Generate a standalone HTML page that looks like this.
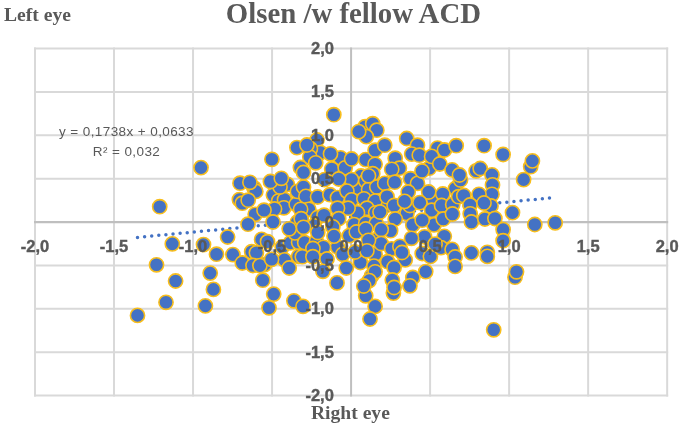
<!DOCTYPE html>
<html><head><meta charset="utf-8"><style>
html,body{margin:0;padding:0;background:#fff;}
body{width:685px;height:426px;overflow:hidden;}
svg{display:block;filter:blur(0.35px);}
.ax{font-family:"Liberation Sans",sans-serif;font-weight:bold;stroke:#595959;stroke-width:0.4px;font-size:16.5px;fill:#595959;}
.eq{font-family:"Liberation Sans",sans-serif;font-size:13.5px;letter-spacing:0.4px;fill:#595959;}
.ti{font-family:"Liberation Serif",serif;font-weight:bold;font-size:28.8px;fill:#595959;}
.lb{font-family:"Liberation Serif",serif;font-weight:bold;font-size:19.6px;fill:#595959;}
circle{fill:#4472C4;stroke:#F8BE1C;stroke-width:1.6;}
</style></head><body>
<svg width="685" height="426" viewBox="0 0 685 426">
<line x1="35.00" y1="47.60" x2="35.00" y2="396.60" stroke="#d9d9d9" stroke-width="2"/>
<line x1="114.02" y1="47.60" x2="114.02" y2="396.60" stroke="#d9d9d9" stroke-width="2"/>
<line x1="193.04" y1="47.60" x2="193.04" y2="396.60" stroke="#d9d9d9" stroke-width="2"/>
<line x1="272.06" y1="47.60" x2="272.06" y2="396.60" stroke="#d9d9d9" stroke-width="2"/>
<line x1="430.10" y1="47.60" x2="430.10" y2="396.60" stroke="#d9d9d9" stroke-width="2"/>
<line x1="509.12" y1="47.60" x2="509.12" y2="396.60" stroke="#d9d9d9" stroke-width="2"/>
<line x1="588.14" y1="47.60" x2="588.14" y2="396.60" stroke="#d9d9d9" stroke-width="2"/>
<line x1="667.16" y1="47.60" x2="667.16" y2="396.60" stroke="#d9d9d9" stroke-width="2"/>
<line x1="34.00" y1="48.60" x2="668.16" y2="48.60" stroke="#d9d9d9" stroke-width="2"/>
<line x1="34.00" y1="91.97" x2="668.16" y2="91.97" stroke="#d9d9d9" stroke-width="2"/>
<line x1="34.00" y1="135.35" x2="668.16" y2="135.35" stroke="#d9d9d9" stroke-width="2"/>
<line x1="34.00" y1="178.72" x2="668.16" y2="178.72" stroke="#d9d9d9" stroke-width="2"/>
<line x1="34.00" y1="265.48" x2="668.16" y2="265.48" stroke="#d9d9d9" stroke-width="2"/>
<line x1="34.00" y1="308.85" x2="668.16" y2="308.85" stroke="#d9d9d9" stroke-width="2"/>
<line x1="34.00" y1="352.23" x2="668.16" y2="352.23" stroke="#d9d9d9" stroke-width="2"/>
<line x1="34.00" y1="395.60" x2="668.16" y2="395.60" stroke="#d9d9d9" stroke-width="2"/>
<line x1="351.08" y1="47.60" x2="351.08" y2="396.60" stroke="#bfbfbf" stroke-width="2"/>
<line x1="34.00" y1="222.10" x2="668.16" y2="222.10" stroke="#bfbfbf" stroke-width="2.1"/>
<line x1="137.5" y1="237.38" x2="555.2" y2="197.53" stroke="#4472C4" stroke-width="3.5" stroke-linecap="round" stroke-dasharray="0 7.135"/>
<circle cx="317.0" cy="140.0" r="7.1"/>
<circle cx="320.5" cy="152.6" r="7.1"/>
<circle cx="407.0" cy="213.5" r="7.1"/>
<circle cx="433.0" cy="199.0" r="7.1"/>
<circle cx="385.5" cy="206.0" r="7.1"/>
<circle cx="357.0" cy="187.5" r="7.1"/>
<circle cx="337.5" cy="247.0" r="7.1"/>
<circle cx="201.0" cy="167.6" r="7.1"/>
<circle cx="159.7" cy="206.7" r="7.1"/>
<circle cx="172.3" cy="243.9" r="7.1"/>
<circle cx="156.5" cy="264.8" r="7.1"/>
<circle cx="175.6" cy="281.0" r="7.1"/>
<circle cx="203.5" cy="244.6" r="7.1"/>
<circle cx="216.5" cy="254.2" r="7.1"/>
<circle cx="210.2" cy="273.1" r="7.1"/>
<circle cx="166.0" cy="302.3" r="7.1"/>
<circle cx="137.5" cy="315.4" r="7.1"/>
<circle cx="213.4" cy="289.4" r="7.1"/>
<circle cx="205.4" cy="305.9" r="7.1"/>
<circle cx="271.9" cy="159.3" r="7.1"/>
<circle cx="296.9" cy="147.6" r="7.1"/>
<circle cx="310.4" cy="148.8" r="7.1"/>
<circle cx="309.8" cy="157.0" r="7.1"/>
<circle cx="315.7" cy="162.8" r="7.1"/>
<circle cx="300.4" cy="167.5" r="7.1"/>
<circle cx="240.0" cy="183.2" r="7.1"/>
<circle cx="254.0" cy="187.9" r="7.1"/>
<circle cx="255.8" cy="191.4" r="7.1"/>
<circle cx="239.4" cy="199.6" r="7.1"/>
<circle cx="242.3" cy="203.2" r="7.1"/>
<circle cx="248.2" cy="200.2" r="7.1"/>
<circle cx="287.4" cy="184.4" r="7.1"/>
<circle cx="273.4" cy="195.0" r="7.1"/>
<circle cx="278.7" cy="200.8" r="7.1"/>
<circle cx="284.5" cy="199.6" r="7.1"/>
<circle cx="283.9" cy="207.8" r="7.1"/>
<circle cx="274.5" cy="209.0" r="7.1"/>
<circle cx="255.2" cy="214.3" r="7.1"/>
<circle cx="248.0" cy="224.2" r="7.1"/>
<circle cx="273.0" cy="222.0" r="7.1"/>
<circle cx="296.2" cy="204.3" r="7.1"/>
<circle cx="297.4" cy="191.4" r="7.1"/>
<circle cx="297.4" cy="222.0" r="7.1"/>
<circle cx="227.6" cy="237.0" r="7.1"/>
<circle cx="261.6" cy="239.4" r="7.1"/>
<circle cx="267.5" cy="241.7" r="7.1"/>
<circle cx="232.9" cy="254.6" r="7.1"/>
<circle cx="242.3" cy="263.0" r="7.1"/>
<circle cx="251.7" cy="251.7" r="7.1"/>
<circle cx="256.4" cy="252.8" r="7.1"/>
<circle cx="253.0" cy="265.5" r="7.1"/>
<circle cx="282.2" cy="247.0" r="7.1"/>
<circle cx="284.5" cy="259.9" r="7.1"/>
<circle cx="289.2" cy="268.0" r="7.1"/>
<circle cx="290.4" cy="242.9" r="7.1"/>
<circle cx="298.6" cy="242.3" r="7.1"/>
<circle cx="298.6" cy="256.4" r="7.1"/>
<circle cx="295.0" cy="232.9" r="7.1"/>
<circle cx="264.6" cy="264.6" r="7.1"/>
<circle cx="262.8" cy="280.2" r="7.1"/>
<circle cx="273.7" cy="294.1" r="7.1"/>
<circle cx="269.0" cy="307.8" r="7.1"/>
<circle cx="293.9" cy="300.8" r="7.1"/>
<circle cx="303.0" cy="306.3" r="7.1"/>
<circle cx="259.9" cy="265.6" r="7.1"/>
<circle cx="333.8" cy="114.7" r="7.1"/>
<circle cx="365.1" cy="126.7" r="7.1"/>
<circle cx="372.7" cy="123.7" r="7.1"/>
<circle cx="376.8" cy="130.2" r="7.1"/>
<circle cx="366.3" cy="136.6" r="7.1"/>
<circle cx="340.5" cy="157.9" r="7.1"/>
<circle cx="331.7" cy="169.0" r="7.1"/>
<circle cx="345.2" cy="167.8" r="7.1"/>
<circle cx="351.6" cy="159.0" r="7.1"/>
<circle cx="365.7" cy="159.6" r="7.1"/>
<circle cx="375.1" cy="150.2" r="7.1"/>
<circle cx="375.1" cy="164.3" r="7.1"/>
<circle cx="361.0" cy="176.0" r="7.1"/>
<circle cx="372.7" cy="173.7" r="7.1"/>
<circle cx="351.6" cy="179.6" r="7.1"/>
<circle cx="338.7" cy="179.0" r="7.1"/>
<circle cx="324.6" cy="179.6" r="7.1"/>
<circle cx="365.7" cy="181.0" r="7.1"/>
<circle cx="303.5" cy="187.0" r="7.1"/>
<circle cx="305.9" cy="196.4" r="7.1"/>
<circle cx="317.6" cy="197.0" r="7.1"/>
<circle cx="329.9" cy="194.7" r="7.1"/>
<circle cx="337.5" cy="197.6" r="7.1"/>
<circle cx="346.9" cy="191.1" r="7.1"/>
<circle cx="351.6" cy="199.9" r="7.1"/>
<circle cx="368.6" cy="189.4" r="7.1"/>
<circle cx="376.8" cy="187.0" r="7.1"/>
<circle cx="363.9" cy="198.8" r="7.1"/>
<circle cx="375.1" cy="201.1" r="7.1"/>
<circle cx="366.9" cy="208.2" r="7.1"/>
<circle cx="375.7" cy="212.8" r="7.1"/>
<circle cx="357.5" cy="212.8" r="7.1"/>
<circle cx="348.1" cy="208.2" r="7.1"/>
<circle cx="337.5" cy="208.2" r="7.1"/>
<circle cx="338.7" cy="218.7" r="7.1"/>
<circle cx="308.8" cy="209.3" r="7.1"/>
<circle cx="300.6" cy="209.3" r="7.1"/>
<circle cx="301.2" cy="218.7" r="7.1"/>
<circle cx="317.6" cy="217.5" r="7.1"/>
<circle cx="324.0" cy="215.2" r="7.1"/>
<circle cx="354.0" cy="224.6" r="7.1"/>
<circle cx="365.7" cy="223.4" r="7.1"/>
<circle cx="376.2" cy="223.4" r="7.1"/>
<circle cx="332.8" cy="226.9" r="7.1"/>
<circle cx="314.1" cy="225.7" r="7.1"/>
<circle cx="303.5" cy="227.3" r="7.1"/>
<circle cx="334.0" cy="236.1" r="7.1"/>
<circle cx="304.7" cy="242.6" r="7.1"/>
<circle cx="316.4" cy="241.4" r="7.1"/>
<circle cx="323.5" cy="247.3" r="7.1"/>
<circle cx="312.9" cy="248.5" r="7.1"/>
<circle cx="302.3" cy="256.7" r="7.1"/>
<circle cx="312.9" cy="256.7" r="7.1"/>
<circle cx="327.0" cy="259.0" r="7.1"/>
<circle cx="342.8" cy="254.3" r="7.1"/>
<circle cx="349.3" cy="235.6" r="7.1"/>
<circle cx="356.3" cy="232.0" r="7.1"/>
<circle cx="365.7" cy="229.0" r="7.1"/>
<circle cx="377.4" cy="239.1" r="7.1"/>
<circle cx="375.1" cy="254.3" r="7.1"/>
<circle cx="360.4" cy="262.5" r="7.1"/>
<circle cx="346.3" cy="268.0" r="7.1"/>
<circle cx="373.9" cy="266.1" r="7.1"/>
<circle cx="355.1" cy="252.0" r="7.1"/>
<circle cx="322.9" cy="271.3" r="7.1"/>
<circle cx="337.0" cy="282.9" r="7.1"/>
<circle cx="365.7" cy="295.8" r="7.1"/>
<circle cx="371.6" cy="275.9" r="7.1"/>
<circle cx="375.1" cy="271.8" r="7.1"/>
<circle cx="369.2" cy="280.6" r="7.1"/>
<circle cx="375.1" cy="306.4" r="7.1"/>
<circle cx="370.0" cy="319.0" r="7.1"/>
<circle cx="393.4" cy="293.1" r="7.1"/>
<circle cx="384.7" cy="145.2" r="7.1"/>
<circle cx="406.7" cy="138.5" r="7.1"/>
<circle cx="417.5" cy="145.2" r="7.1"/>
<circle cx="437.5" cy="148.1" r="7.1"/>
<circle cx="444.5" cy="150.0" r="7.1"/>
<circle cx="456.2" cy="145.7" r="7.1"/>
<circle cx="411.7" cy="154.1" r="7.1"/>
<circle cx="419.3" cy="155.2" r="7.1"/>
<circle cx="395.2" cy="158.2" r="7.1"/>
<circle cx="399.4" cy="168.2" r="7.1"/>
<circle cx="391.7" cy="169.3" r="7.1"/>
<circle cx="429.3" cy="168.2" r="7.1"/>
<circle cx="431.6" cy="156.4" r="7.1"/>
<circle cx="439.8" cy="164.0" r="7.1"/>
<circle cx="452.1" cy="169.9" r="7.1"/>
<circle cx="384.7" cy="183.4" r="7.1"/>
<circle cx="394.7" cy="182.2" r="7.1"/>
<circle cx="410.5" cy="178.7" r="7.1"/>
<circle cx="417.5" cy="183.4" r="7.1"/>
<circle cx="428.7" cy="192.0" r="7.1"/>
<circle cx="455.5" cy="188.5" r="7.1"/>
<circle cx="442.8" cy="194.0" r="7.1"/>
<circle cx="408.2" cy="192.0" r="7.1"/>
<circle cx="387.0" cy="196.7" r="7.1"/>
<circle cx="394.1" cy="205.5" r="7.1"/>
<circle cx="409.9" cy="205.5" r="7.1"/>
<circle cx="404.6" cy="201.4" r="7.1"/>
<circle cx="419.9" cy="202.6" r="7.1"/>
<circle cx="431.6" cy="210.2" r="7.1"/>
<circle cx="441.6" cy="205.5" r="7.1"/>
<circle cx="452.7" cy="204.4" r="7.1"/>
<circle cx="458.6" cy="196.7" r="7.1"/>
<circle cx="380.0" cy="212.0" r="7.1"/>
<circle cx="395.2" cy="219.0" r="7.1"/>
<circle cx="412.8" cy="224.9" r="7.1"/>
<circle cx="434.0" cy="224.9" r="7.1"/>
<circle cx="443.3" cy="219.0" r="7.1"/>
<circle cx="390.6" cy="230.7" r="7.1"/>
<circle cx="424.6" cy="236.8" r="7.1"/>
<circle cx="444.3" cy="236.3" r="7.1"/>
<circle cx="381.2" cy="229.6" r="7.1"/>
<circle cx="422.2" cy="220.2" r="7.1"/>
<circle cx="411.5" cy="238.3" r="7.1"/>
<circle cx="381.2" cy="243.5" r="7.1"/>
<circle cx="391.7" cy="248.8" r="7.1"/>
<circle cx="399.9" cy="246.4" r="7.1"/>
<circle cx="405.2" cy="259.9" r="7.1"/>
<circle cx="387.6" cy="261.7" r="7.1"/>
<circle cx="394.1" cy="267.5" r="7.1"/>
<circle cx="422.2" cy="253.5" r="7.1"/>
<circle cx="430.4" cy="256.4" r="7.1"/>
<circle cx="441.0" cy="247.6" r="7.1"/>
<circle cx="452.1" cy="249.4" r="7.1"/>
<circle cx="455.1" cy="257.0" r="7.1"/>
<circle cx="455.1" cy="266.4" r="7.1"/>
<circle cx="425.7" cy="271.6" r="7.1"/>
<circle cx="412.8" cy="277.5" r="7.1"/>
<circle cx="392.3" cy="280.0" r="7.1"/>
<circle cx="435.1" cy="244.1" r="7.1"/>
<circle cx="394.1" cy="287.5" r="7.1"/>
<circle cx="409.9" cy="285.8" r="7.1"/>
<circle cx="484.1" cy="145.7" r="7.1"/>
<circle cx="503.1" cy="154.5" r="7.1"/>
<circle cx="476.1" cy="170.8" r="7.1"/>
<circle cx="480.2" cy="168.5" r="7.1"/>
<circle cx="492.0" cy="174.9" r="7.1"/>
<circle cx="460.5" cy="180.0" r="7.1"/>
<circle cx="492.5" cy="184.9" r="7.1"/>
<circle cx="492.0" cy="194.3" r="7.1"/>
<circle cx="479.0" cy="194.3" r="7.1"/>
<circle cx="463.8" cy="195.5" r="7.1"/>
<circle cx="523.6" cy="179.6" r="7.1"/>
<circle cx="530.7" cy="166.7" r="7.1"/>
<circle cx="532.4" cy="160.9" r="7.1"/>
<circle cx="470.0" cy="205.0" r="7.1"/>
<circle cx="491.0" cy="206.0" r="7.1"/>
<circle cx="470.2" cy="213.8" r="7.1"/>
<circle cx="471.4" cy="222.0" r="7.1"/>
<circle cx="484.9" cy="219.0" r="7.1"/>
<circle cx="494.9" cy="218.5" r="7.1"/>
<circle cx="503.1" cy="229.6" r="7.1"/>
<circle cx="503.1" cy="240.7" r="7.1"/>
<circle cx="512.5" cy="212.6" r="7.1"/>
<circle cx="534.8" cy="224.5" r="7.1"/>
<circle cx="484.0" cy="203.0" r="7.1"/>
<circle cx="471.4" cy="252.9" r="7.1"/>
<circle cx="487.3" cy="252.3" r="7.1"/>
<circle cx="487.3" cy="256.4" r="7.1"/>
<circle cx="515.0" cy="277.2" r="7.1"/>
<circle cx="555.2" cy="222.8" r="7.1"/>
<circle cx="493.7" cy="329.8" r="7.1"/>
<circle cx="280.0" cy="187.0" r="7.1"/>
<circle cx="306.9" cy="145.0" r="7.1"/>
<circle cx="303.5" cy="172.5" r="7.1"/>
<circle cx="249.9" cy="182.3" r="7.1"/>
<circle cx="270.4" cy="181.5" r="7.1"/>
<circle cx="281.3" cy="178.3" r="7.1"/>
<circle cx="264.0" cy="210.2" r="7.1"/>
<circle cx="289.2" cy="228.8" r="7.1"/>
<circle cx="271.6" cy="259.3" r="7.1"/>
<circle cx="358.7" cy="131.6" r="7.1"/>
<circle cx="330.5" cy="153.8" r="7.1"/>
<circle cx="368.5" cy="175.8" r="7.1"/>
<circle cx="317.8" cy="232.5" r="7.1"/>
<circle cx="368.5" cy="240.3" r="7.1"/>
<circle cx="366.9" cy="250.8" r="7.1"/>
<circle cx="363.8" cy="286.0" r="7.1"/>
<circle cx="422.0" cy="171.0" r="7.1"/>
<circle cx="459.5" cy="175.0" r="7.1"/>
<circle cx="452.5" cy="214.0" r="7.1"/>
<circle cx="402.0" cy="252.5" r="7.1"/>
<circle cx="516.5" cy="271.8" r="7.1"/>
<text class="ax" x="35.00" y="251.9" text-anchor="middle">-2,0</text>
<text class="ax" x="114.02" y="251.9" text-anchor="middle">-1,5</text>
<text class="ax" x="193.04" y="251.9" text-anchor="middle">-1,0</text>
<text class="ax" x="272.06" y="251.9" text-anchor="middle">-0,5</text>
<text class="ax" x="351.08" y="251.9" text-anchor="middle">0,0</text>
<text class="ax" x="430.10" y="251.9" text-anchor="middle">0,5</text>
<text class="ax" x="509.12" y="251.9" text-anchor="middle">1,0</text>
<text class="ax" x="588.14" y="251.9" text-anchor="middle">1,5</text>
<text class="ax" x="667.16" y="251.9" text-anchor="middle">2,0</text>
<text class="ax" x="333.9" y="54.00" text-anchor="end">2,0</text>
<text class="ax" x="333.9" y="97.38" text-anchor="end">1,5</text>
<text class="ax" x="333.9" y="140.75" text-anchor="end">1,0</text>
<text class="ax" x="333.9" y="184.12" text-anchor="end">0,5</text>
<text class="ax" x="333.9" y="227.50" text-anchor="end">0,0</text>
<text class="ax" x="333.9" y="270.88" text-anchor="end">-0,5</text>
<text class="ax" x="333.9" y="314.25" text-anchor="end">-1,0</text>
<text class="ax" x="333.9" y="357.62" text-anchor="end">-1,5</text>
<text class="ax" x="333.9" y="401.00" text-anchor="end">-2,0</text>
<text class="eq" x="126.5" y="135.5" text-anchor="middle">y = 0,1738x + 0,0633</text>
<text class="eq" x="126.5" y="155.8" text-anchor="middle">R² = 0,032</text>
<text class="ti" x="353.4" y="23" text-anchor="middle">Olsen /w fellow ACD</text>
<text class="lb" x="4" y="21.3">Left eye</text>
<text class="lb" x="350.4" y="418.6" text-anchor="middle">Right eye</text>
</svg>
</body></html>
